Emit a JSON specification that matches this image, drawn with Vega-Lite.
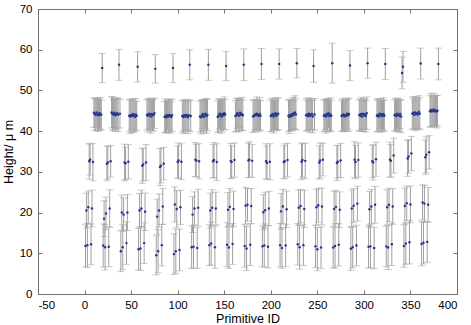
{
  "$schema": "https://vega.github.io/schema/vega-lite/v6.json",
  "width": 419,
  "height": 285,
  "autosize": {"type": "none"},
  "padding": {"left": 38, "top": 9, "right": 14, "bottom": 31},
  "background": "white",
  "config": {
    "view": {"stroke": "#707070", "strokeWidth": 1},
    "axis": {
      "labelFont": "Liberation Sans", "titleFont": "Liberation Sans",
      "labelFontSize": 11.5, "titleFontSize": 12.5, "labelColor": "#000000", "titleColor": "#000000",
      "titleFontWeight": "normal", "grid": false, "domain": false,
      "tickColor": "#707070", "tickSize": -4, "labelExpr": "'' + datum.value"
    }
  },
  "data": {"values": [
    {"id":1,"h":11.8,"e":5.2},{"id":2,"h":20.5,"e":4.3},{"id":3,"h":12.0,"e":5.4},{"id":4,"h":21.3,"e":4.0},{"id":5,"h":32.6,"e":4.4},{"id":6,"h":33.0,"e":3.8},{"id":7,"h":12.2,"e":5.0},{"id":8,"h":21.0,"e":4.5},{"id":9,"h":32.4,"e":4.6},{"id":10,"h":44.5,"e":3.6},{"id":11,"h":44.2,"e":4.0},{"id":12,"h":44.0,"e":3.8},{"id":13,"h":44.6,"e":3.5},{"id":14,"h":44.1,"e":4.1},{"id":15,"h":43.9,"e":3.9},{"id":16,"h":44.4,"e":3.7},{"id":17,"h":44.2,"e":4.0},{"id":18,"h":44.0,"e":3.6},{"id":19,"h":55.5,"e":3.6},
    {"id":20,"h":11.9,"e":5.3},{"id":21,"h":18.5,"e":4.4},{"id":22,"h":11.5,"e":5.6},{"id":23,"h":19.8,"e":4.0},{"id":24,"h":32.0,"e":4.2},{"id":25,"h":32.3,"e":4.1},{"id":26,"h":11.6,"e":4.9},{"id":27,"h":21.0,"e":4.6},{"id":28,"h":32.6,"e":3.9},{"id":29,"h":44.6,"e":3.8},{"id":30,"h":44.3,"e":4.2},{"id":31,"h":44.1,"e":3.7},{"id":32,"h":44.5,"e":3.6},{"id":33,"h":43.9,"e":4.0},{"id":34,"h":44.2,"e":3.9},{"id":35,"h":44.4,"e":3.8},{"id":36,"h":44.0,"e":4.1},{"id":37,"h":56.3,"e":3.8},{"id":38,"h":44.3,"e":3.5},
    {"id":39,"h":10.5,"e":5.0},{"id":40,"h":20.0,"e":4.3},{"id":41,"h":11.5,"e":5.5},{"id":42,"h":19.5,"e":4.1},{"id":43,"h":32.3,"e":4.5},{"id":44,"h":32.1,"e":4.0},{"id":45,"h":12.5,"e":5.2},{"id":46,"h":20.0,"e":4.4},{"id":47,"h":32.5,"e":4.2},{"id":48,"h":43.8,"e":3.9},{"id":49,"h":43.6,"e":4.2},{"id":50,"h":44.0,"e":3.6},{"id":51,"h":43.7,"e":4.0},{"id":52,"h":44.2,"e":3.8},{"id":53,"h":43.9,"e":4.1},{"id":54,"h":43.5,"e":3.7},{"id":55,"h":44.1,"e":3.9},{"id":56,"h":43.8,"e":3.6},{"id":57,"h":55.8,"e":3.7},
    {"id":58,"h":11.0,"e":5.1},{"id":59,"h":20.5,"e":4.2},{"id":60,"h":11.2,"e":5.4},{"id":61,"h":21.0,"e":4.5},{"id":62,"h":31.5,"e":4.3},{"id":63,"h":31.8,"e":4.0},{"id":64,"h":12.5,"e":5.0},{"id":65,"h":20.2,"e":4.6},{"id":66,"h":32.3,"e":4.4},{"id":67,"h":44.0,"e":3.7},{"id":68,"h":43.8,"e":4.0},{"id":69,"h":44.3,"e":3.8},{"id":70,"h":44.1,"e":3.9},{"id":71,"h":43.6,"e":4.1},{"id":72,"h":44.2,"e":3.6},{"id":73,"h":43.9,"e":3.8},{"id":74,"h":44.0,"e":4.0},{"id":75,"h":44.4,"e":3.7},{"id":76,"h":55.3,"e":3.5},
    {"id":77,"h":9.5,"e":4.8},{"id":78,"h":19.0,"e":4.3},{"id":79,"h":10.5,"e":5.3},{"id":80,"h":20.5,"e":4.1},{"id":81,"h":31.2,"e":4.6},{"id":82,"h":31.5,"e":4.2},{"id":83,"h":12.0,"e":5.1},{"id":84,"h":21.5,"e":4.4},{"id":85,"h":32.0,"e":4.0},{"id":86,"h":43.5,"e":3.8},{"id":87,"h":43.8,"e":4.1},{"id":88,"h":43.4,"e":3.9},{"id":89,"h":43.9,"e":3.6},{"id":90,"h":43.6,"e":4.0},{"id":91,"h":44.0,"e":3.8},{"id":92,"h":43.7,"e":4.2},{"id":93,"h":43.5,"e":3.7},{"id":94,"h":43.9,"e":3.9},{"id":95,"h":55.5,"e":3.6},
    {"id":96,"h":9.8,"e":5.0},{"id":97,"h":22.0,"e":4.3},{"id":98,"h":10.5,"e":5.4},{"id":99,"h":20.9,"e":4.5},{"id":100,"h":32.4,"e":4.0},{"id":101,"h":32.8,"e":4.3},{"id":102,"h":10.8,"e":5.1},{"id":103,"h":21.3,"e":4.2},{"id":104,"h":32.5,"e":4.4},{"id":105,"h":43.7,"e":3.9},{"id":106,"h":43.5,"e":4.0},{"id":107,"h":43.9,"e":3.7},{"id":108,"h":43.6,"e":4.1},{"id":109,"h":44.0,"e":3.8},{"id":110,"h":43.8,"e":3.6},{"id":111,"h":43.4,"e":4.0},{"id":112,"h":43.9,"e":3.9},{"id":113,"h":56.3,"e":3.7},{"id":114,"h":43.7,"e":3.8},
    {"id":115,"h":11.5,"e":5.2},{"id":116,"h":19.5,"e":4.4},{"id":117,"h":11.6,"e":5.3},{"id":118,"h":21.0,"e":4.1},{"id":119,"h":33.0,"e":4.2},{"id":120,"h":32.8,"e":4.0},{"id":121,"h":11.3,"e":5.0},{"id":122,"h":21.2,"e":4.5},{"id":123,"h":32.6,"e":4.3},{"id":124,"h":43.6,"e":3.8},{"id":125,"h":43.4,"e":4.1},{"id":126,"h":43.8,"e":3.9},{"id":127,"h":44.2,"e":3.6},{"id":128,"h":43.5,"e":4.0},{"id":129,"h":43.9,"e":3.8},{"id":130,"h":44.3,"e":3.7},{"id":131,"h":43.7,"e":4.2},{"id":132,"h":44.0,"e":3.9},{"id":133,"h":56.3,"e":3.8},
    {"id":134,"h":12.0,"e":5.0},{"id":135,"h":20.5,"e":4.3},{"id":136,"h":12.4,"e":5.3},{"id":137,"h":21.2,"e":4.4},{"id":138,"h":32.6,"e":4.1},{"id":139,"h":32.9,"e":4.3},{"id":140,"h":11.5,"e":5.2},{"id":141,"h":21.0,"e":4.0},{"id":142,"h":32.4,"e":4.5},{"id":143,"h":43.5,"e":3.9},{"id":144,"h":43.8,"e":4.0},{"id":145,"h":44.3,"e":3.7},{"id":146,"h":44.0,"e":3.8},{"id":147,"h":43.6,"e":4.1},{"id":148,"h":44.2,"e":3.6},{"id":149,"h":43.9,"e":3.9},{"id":150,"h":44.4,"e":4.0},{"id":151,"h":44.1,"e":3.7},{"id":152,"h":56.0,"e":3.6},
    {"id":153,"h":12.1,"e":5.4},{"id":154,"h":20.7,"e":4.2},{"id":155,"h":11.4,"e":5.1},{"id":156,"h":21.4,"e":4.5},{"id":157,"h":32.7,"e":4.3},{"id":158,"h":32.4,"e":4.0},{"id":159,"h":12.3,"e":5.0},{"id":160,"h":20.9,"e":4.4},{"id":161,"h":32.9,"e":4.2},{"id":162,"h":43.7,"e":3.8},{"id":163,"h":43.9,"e":4.1},{"id":164,"h":44.4,"e":3.7},{"id":165,"h":44.1,"e":3.9},{"id":166,"h":43.8,"e":4.0},{"id":167,"h":44.5,"e":3.6},{"id":168,"h":44.0,"e":3.8},{"id":169,"h":44.2,"e":4.1},{"id":170,"h":43.9,"e":3.7},{"id":171,"h":56.3,"e":3.9},
    {"id":172,"h":11.8,"e":5.2},{"id":173,"h":21.7,"e":4.5},{"id":174,"h":11.2,"e":5.4},{"id":175,"h":21.9,"e":4.0},{"id":176,"h":32.8,"e":4.2},{"id":177,"h":33.0,"e":4.4},{"id":178,"h":12.1,"e":5.1},{"id":179,"h":21.6,"e":4.3},{"id":180,"h":32.7,"e":4.0},{"id":181,"h":43.6,"e":3.9},{"id":182,"h":43.8,"e":4.0},{"id":183,"h":44.1,"e":3.7},{"id":184,"h":43.9,"e":3.8},{"id":185,"h":44.3,"e":4.1},{"id":186,"h":44.0,"e":3.6},{"id":187,"h":43.7,"e":3.9},{"id":188,"h":44.2,"e":4.0},{"id":189,"h":43.8,"e":3.7},{"id":190,"h":56.5,"e":3.8},
    {"id":191,"h":11.7,"e":5.0},{"id":192,"h":20.1,"e":4.3},{"id":193,"h":11.9,"e":5.3},{"id":194,"h":20.6,"e":4.4},{"id":195,"h":32.6,"e":4.3},{"id":196,"h":32.2,"e":4.1},{"id":197,"h":11.6,"e":5.2},{"id":198,"h":21.0,"e":4.2},{"id":199,"h":32.5,"e":4.4},{"id":200,"h":43.7,"e":3.8},{"id":201,"h":43.9,"e":4.0},{"id":202,"h":44.2,"e":3.9},{"id":203,"h":43.6,"e":4.1},{"id":204,"h":44.0,"e":3.6},{"id":205,"h":44.4,"e":3.8},{"id":206,"h":43.8,"e":3.7},{"id":207,"h":44.1,"e":4.0},{"id":208,"h":44.3,"e":3.9},{"id":209,"h":56.5,"e":3.7},
    {"id":210,"h":12.0,"e":5.3},{"id":211,"h":20.3,"e":4.4},{"id":212,"h":11.3,"e":5.0},{"id":213,"h":21.5,"e":4.2},{"id":214,"h":32.4,"e":4.0},{"id":215,"h":32.6,"e":4.3},{"id":216,"h":11.9,"e":5.2},{"id":217,"h":20.8,"e":4.5},{"id":218,"h":32.9,"e":4.1},{"id":219,"h":43.8,"e":3.9},{"id":220,"h":43.5,"e":4.1},{"id":221,"h":44.0,"e":3.8},{"id":222,"h":43.7,"e":3.7},{"id":223,"h":44.2,"e":4.0},{"id":224,"h":43.9,"e":3.6},{"id":225,"h":44.4,"e":3.9},{"id":226,"h":44.6,"e":4.1},{"id":227,"h":44.1,"e":3.8},{"id":228,"h":56.7,"e":3.6},
    {"id":229,"h":12.2,"e":5.1},{"id":230,"h":21.2,"e":4.3},{"id":231,"h":11.5,"e":5.4},{"id":232,"h":21.6,"e":4.1},{"id":233,"h":32.5,"e":4.4},{"id":234,"h":32.9,"e":4.2},{"id":235,"h":12.0,"e":5.0},{"id":236,"h":20.9,"e":4.6},{"id":237,"h":32.7,"e":4.3},{"id":238,"h":43.9,"e":3.8},{"id":239,"h":44.1,"e":4.0},{"id":240,"h":43.7,"e":3.7},{"id":241,"h":44.3,"e":3.9},{"id":242,"h":43.8,"e":4.1},{"id":243,"h":44.0,"e":3.6},{"id":244,"h":44.2,"e":3.8},{"id":245,"h":43.6,"e":4.0},{"id":246,"h":56.0,"e":4.0},{"id":247,"h":44.1,"e":3.9},
    {"id":248,"h":11.7,"e":5.2},{"id":249,"h":21.3,"e":4.4},{"id":250,"h":11.0,"e":5.3},{"id":251,"h":21.8,"e":4.2},{"id":252,"h":32.3,"e":4.1},{"id":253,"h":32.8,"e":4.3},{"id":254,"h":11.4,"e":5.1},{"id":255,"h":21.5,"e":4.5},{"id":256,"h":33.0,"e":4.0},{"id":257,"h":43.8,"e":3.9},{"id":258,"h":44.0,"e":3.7},{"id":259,"h":43.6,"e":4.1},{"id":260,"h":44.2,"e":3.8},{"id":261,"h":43.9,"e":4.0},{"id":262,"h":44.4,"e":3.6},{"id":263,"h":43.7,"e":3.9},{"id":264,"h":44.1,"e":4.1},{"id":265,"h":43.8,"e":3.8},{"id":266,"h":56.7,"e":4.9},
    {"id":267,"h":11.4,"e":5.0},{"id":268,"h":20.9,"e":4.3},{"id":269,"h":11.8,"e":5.4},{"id":270,"h":21.4,"e":4.1},{"id":271,"h":32.2,"e":4.3},{"id":272,"h":32.5,"e":4.0},{"id":273,"h":12.1,"e":5.2},{"id":274,"h":20.7,"e":4.4},{"id":275,"h":32.8,"e":4.2},{"id":276,"h":43.7,"e":3.8},{"id":277,"h":43.9,"e":4.0},{"id":278,"h":44.1,"e":3.9},{"id":279,"h":43.6,"e":3.7},{"id":280,"h":44.0,"e":4.1},{"id":281,"h":43.8,"e":3.8},{"id":282,"h":44.3,"e":3.6},{"id":283,"h":43.9,"e":4.0},{"id":284,"h":44.2,"e":3.9},{"id":285,"h":56.1,"e":3.7},
    {"id":286,"h":11.1,"e":5.3},{"id":287,"h":21.0,"e":4.5},{"id":288,"h":11.5,"e":5.1},{"id":289,"h":21.7,"e":4.2},{"id":290,"h":33.0,"e":4.4},{"id":291,"h":32.4,"e":4.1},{"id":292,"h":11.9,"e":5.0},{"id":293,"h":22.2,"e":4.3},{"id":294,"h":32.9,"e":4.2},{"id":295,"h":44.0,"e":3.8},{"id":296,"h":43.8,"e":3.9},{"id":297,"h":44.2,"e":4.1},{"id":298,"h":43.6,"e":3.7},{"id":299,"h":44.3,"e":3.8},{"id":300,"h":43.9,"e":4.0},{"id":301,"h":44.1,"e":3.6},{"id":302,"h":43.7,"e":3.9},{"id":303,"h":44.4,"e":4.0},{"id":304,"h":56.7,"e":3.7},
    {"id":305,"h":11.6,"e":5.2},{"id":306,"h":20.8,"e":4.4},{"id":307,"h":11.7,"e":5.3},{"id":308,"h":21.5,"e":4.2},{"id":309,"h":32.6,"e":4.0},{"id":310,"h":32.3,"e":4.3},{"id":311,"h":11.3,"e":5.1},{"id":312,"h":21.9,"e":4.5},{"id":313,"h":33.1,"e":4.2},{"id":314,"h":43.8,"e":3.9},{"id":315,"h":44.0,"e":4.0},{"id":316,"h":43.6,"e":3.8},{"id":317,"h":44.3,"e":3.7},{"id":318,"h":43.9,"e":4.1},{"id":319,"h":44.1,"e":3.6},{"id":320,"h":43.7,"e":3.9},{"id":321,"h":44.2,"e":4.0},{"id":322,"h":43.8,"e":3.8},{"id":323,"h":56.5,"e":3.8},
    {"id":324,"h":11.7,"e":5.0},{"id":325,"h":21.3,"e":4.3},{"id":326,"h":11.4,"e":5.4},{"id":327,"h":21.9,"e":4.1},{"id":328,"h":33.0,"e":4.3},{"id":329,"h":32.7,"e":4.0},{"id":330,"h":12.2,"e":5.2},{"id":331,"h":21.5,"e":4.4},{"id":332,"h":34.0,"e":4.3},{"id":333,"h":43.9,"e":3.8},{"id":334,"h":44.1,"e":4.0},{"id":335,"h":43.7,"e":3.9},{"id":336,"h":44.3,"e":3.7},{"id":337,"h":44.0,"e":4.1},{"id":338,"h":43.8,"e":3.8},{"id":339,"h":44.2,"e":3.6},{"id":340,"h":43.6,"e":4.0},{"id":341,"h":54.3,"e":3.9},{"id":342,"h":55.8,"e":3.8},
    {"id":343,"h":11.8,"e":5.2},{"id":344,"h":21.6,"e":4.4},{"id":345,"h":12.4,"e":5.1},{"id":346,"h":22.3,"e":4.2},{"id":347,"h":33.3,"e":4.4},{"id":348,"h":33.8,"e":4.1},{"id":349,"h":12.7,"e":5.3},{"id":350,"h":22.0,"e":4.5},{"id":351,"h":34.5,"e":4.2},{"id":352,"h":44.3,"e":3.8},{"id":353,"h":44.5,"e":4.0},{"id":354,"h":44.0,"e":3.7},{"id":355,"h":44.6,"e":3.9},{"id":356,"h":44.2,"e":4.1},{"id":357,"h":44.4,"e":3.8},{"id":358,"h":44.1,"e":3.6},{"id":359,"h":44.7,"e":4.0},{"id":360,"h":44.3,"e":3.9},{"id":361,"h":56.6,"e":3.8},
    {"id":362,"h":12.3,"e":5.4},{"id":363,"h":22.5,"e":4.3},{"id":364,"h":12.6,"e":5.2},{"id":365,"h":22.2,"e":4.5},{"id":366,"h":33.6,"e":4.2},{"id":367,"h":34.2,"e":4.4},{"id":368,"h":12.8,"e":5.0},{"id":369,"h":21.9,"e":4.3},{"id":370,"h":34.8,"e":4.1},{"id":371,"h":44.9,"e":3.9},{"id":372,"h":45.2,"e":4.1},{"id":373,"h":44.8,"e":3.8},{"id":374,"h":45.0,"e":3.7},{"id":375,"h":45.3,"e":4.0},{"id":376,"h":44.9,"e":3.9},{"id":377,"h":45.1,"e":3.6},{"id":378,"h":44.8,"e":4.0},{"id":379,"h":45.0,"e":3.8},{"id":380,"h":56.5,"e":3.9}
  ]},
  "layer": [
    {
      "mark": {"type": "errorbar", "ticks": {"size": 7, "color": "#b4b4b4"}, "rule": {"color": "#a0a0a0", "strokeWidth": 1}},
      "encoding": {
        "x": {"field": "id", "type": "quantitative", "scale": {"domain": [-50, 400], "nice": false}, "axis": {"orient": "bottom", "values": [-50,0,50,100,150,200,250,300,350,400], "title": "Primitive ID", "labelPadding": 9, "titlePadding": 2}},
        "y": {"field": "h", "type": "quantitative", "scale": {"domain": [0, 70], "nice": false}, "axis": {"orient": "left", "values": [0,10,20,30,40,50,60,70], "title": "Height/ μ m", "labelPadding": 10, "titlePadding": 4}},
        "yError": {"field": "e"}
      }
    },
    {
      "mark": {"type": "point", "filled": true, "size": 6, "color": "#26358f", "opacity": 1},
      "encoding": {
        "x": {"field": "id", "type": "quantitative", "scale": {"domain": [-50, 400], "nice": false}, "axis": {"orient": "top", "values": [-50,0,50,100,150,200,250,300,350,400], "labels": false, "title": null}},
        "y": {"field": "h", "type": "quantitative", "scale": {"domain": [0, 70], "nice": false}, "axis": {"orient": "right", "values": [0,10,20,30,40,50,60,70], "labels": false, "title": null}}
      }
    }
  ],
  "resolve": {"axis": {"x": "independent", "y": "independent"}}
}
